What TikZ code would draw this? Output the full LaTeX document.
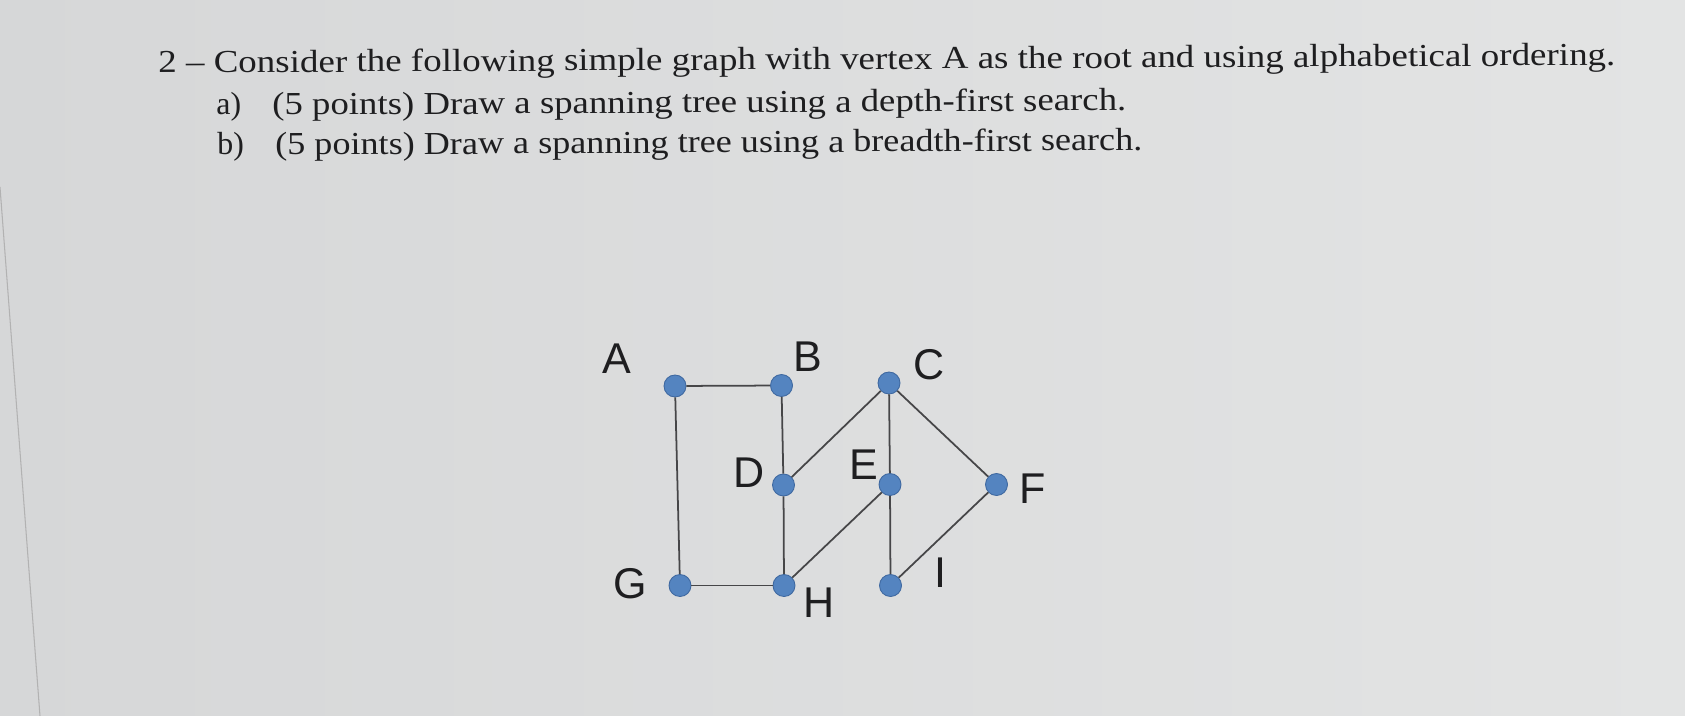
\documentclass[tikz,border=0pt]{standalone}
\usepackage{fontspec}
\usepackage{graphicx}
\setmainfont{Liberation Serif}
\newfontfamily\labelfont{Liberation Sans}
\definecolor{screenleft}{RGB}{214,215,216}
\definecolor{screenright}{RGB}{227,228,228}
\definecolor{vertexblue}{RGB}{84,132,192}
\definecolor{vertexrim}{RGB}{62,104,160}
\definecolor{edgegray}{RGB}{70,70,72}
\definecolor{ink}{RGB}{30,30,32}

\begin{document}
\begin{tikzpicture}[
  vertex/.style={circle, fill=vertexblue, draw=vertexrim, line width=0.5pt, minimum size=0.44cm, inner sep=0pt},
  vname/.style={font=\labelfont\fontsize{24.5}{24.5}\selectfont, text=ink, inner sep=0pt},
  edge/.style={draw=edgegray, line width=1pt},
  task/.style={anchor=base west, inner sep=0pt, font=\fontsize{18.2}{18.2}\selectfont, text=ink, rotate=0.3}
]
\useasboundingbox (0,0) rectangle (33.7,-14.32);
\shade[left color=screenleft, right color=screenright] (0,0) rectangle (33.7,-14.32);
\draw[gray!60, line width=0.6pt] (0,-3.74) -- (0.8,-14.32);

% question text
\node[task] (q) at (3.16,-1.46) {\resizebox{29.14cm}{\height}{2 -- Consider the following simple graph with vertex A as the root and using alphabetical ordering.}};
\node[task] (qa) at (4.32,-2.30) {a)};
\node[task] (ta) at (5.44,-2.30) {\resizebox{17.08cm}{\height}{(5 points) Draw a spanning tree using a depth-first search.}};
\node[task] (qb) at (4.34,-3.10) {b)};
\node[task] (tb) at (5.50,-3.10) {\resizebox{17.34cm}{\height}{(5 points) Draw a spanning tree using a breadth-first search.}};

% vertices
\node[vertex] (A) at (13.50,-7.72) {};
\node[vertex] (B) at (15.63,-7.71) {};
\node[vertex] (C) at (17.78,-7.66) {};
\node[vertex] (D) at (15.67,-9.70) {};
\node[vertex] (E) at (17.80,-9.69) {};
\node[vertex] (F) at (19.93,-9.69) {};
\node[vertex] (G) at (13.60,-11.71) {};
\node[vertex] (H) at (15.68,-11.71) {};
\node[vertex] (I) at (17.81,-11.71) {};

% vertex names
\node[vname] (lA) at (12.33,-7.17) {A};
\node[vname] (lB) at (16.15,-7.13) {B};
\node[vname] (lC) at (18.58,-7.30) {C};
\node[vname] (lD) at (14.98,-9.45) {D};
\node[vname] (lE) at (17.27,-9.30) {E};
\node[vname] (lF) at (20.65,-9.77) {F};
\node[vname] (lG) at (12.61,-11.67) {G};
\node[vname] (lH) at (16.38,-12.05) {H};
\node[vname] (lI) at (18.80,-11.45) {I};

% edges
\foreach \u/\v in {A/B, A/G, B/D, D/H, G/H, C/D, C/E, C/F, E/H, E/I, F/I}
  \draw[edge] (\u) -- (\v);
\end{tikzpicture}
\end{document}
